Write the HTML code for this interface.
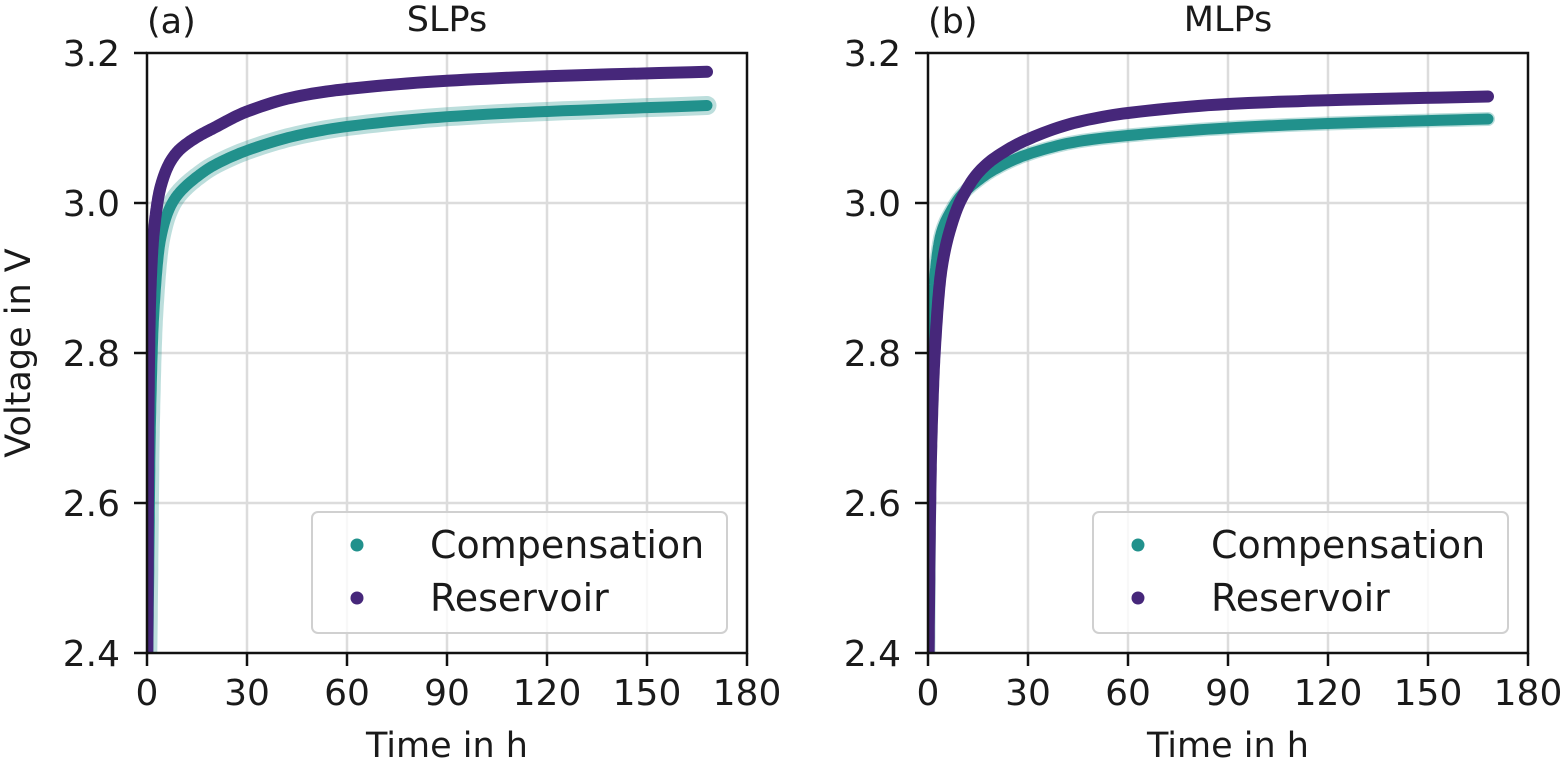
<!DOCTYPE html>
<html><head><meta charset="utf-8"><style>
html,body{margin:0;padding:0;background:#fff;}
svg{display:block;font-family:"DejaVu Sans","Liberation Sans",sans-serif;}
</style></head><body>
<svg id="s" width="1565" height="768" viewBox="0 0 1565 768" xmlns="http://www.w3.org/2000/svg">
<defs>
<clipPath id="c1"><rect x="147" y="53" width="600" height="600"/></clipPath>
<clipPath id="c2"><rect x="928" y="53" width="600" height="600"/></clipPath>
</defs>
<g id="g"></g>
</svg>
<script>
const NS="http://www.w3.org/2000/svg";
const g=document.getElementById('g');
function el(t,a,txt){const e=document.createElementNS(NS,t);for(const k in a)e.setAttribute(k,a[k]);if(txt!==undefined)e.textContent=txt;g.appendChild(e);return e;}
const data={
 lp:[[0,2.3],[0.5,2.75],[1,2.88],[2,2.96],[4,3.02],[7,3.055],[10,3.072],[15,3.088],[20,3.10],[30,3.122],[45,3.142],[60,3.152],[90,3.163],[120,3.169],[168,3.175]],
 lt:[[0,2.3],[0.5,2.5],[1,2.7],[2,2.85],[4,2.95],[7,2.995],[10,3.015],[15,3.035],[20,3.05],[30,3.07],[45,3.09],[60,3.102],[90,3.115],[120,3.122],[168,3.13]],
 rp:[[0,2.3],[0.5,2.55],[1,2.68],[2,2.8],[4,2.91],[7,2.97],[10,3.005],[15,3.04],[20,3.06],[30,3.085],[45,3.108],[60,3.12],[90,3.132],[120,3.137],[168,3.142]],
 rt:[[0,2.3],[0.5,2.68],[1,2.8],[2,2.9],[4,2.96],[7,2.99],[10,3.01],[15,3.03],[20,3.045],[30,3.065],[45,3.082],[60,3.09],[90,3.1],[120,3.106],[168,3.112]]
};
function interp(pts){
 const n=pts.length,xs=pts.map(p=>p[0]),ys=pts.map(p=>p[1]);
 const d=[],m=[];
 for(let i=0;i<n-1;i++)d.push((ys[i+1]-ys[i])/(xs[i+1]-xs[i]));
 m[0]=d[0];m[n-1]=d[n-2];
 for(let i=1;i<n-1;i++){m[i]=(d[i-1]*d[i]<=0)?0:2/(1/d[i-1]+1/d[i]);}
 const out=[];
 for(let i=0;i<n-1;i++){
  const h=xs[i+1]-xs[i];const N=i<6?20:10;
  for(let k=0;k<N;k++){const t=k/N,t2=t*t,t3=t2*t;
   const y=(2*t3-3*t2+1)*ys[i]+(t3-2*t2+t)*h*m[i]+(-2*t3+3*t2)*ys[i+1]+(t3-t2)*h*m[i+1];
   out.push([xs[i]+t*h,y]);}
 }
 out.push(pts[n-1]);return out;
}
function path(pts,x0){return interp(pts).map((p,i)=>(i?'L':'M')+(x0+p[0]*600/180).toFixed(1)+','+(653-(p[1]-2.4)*750).toFixed(1)).join(' ');}
const panels=[{x0:147,t:'SLPs',l:'(a)',k:'l',c:'c1'},{x0:928,t:'MLPs',l:'(b)',k:'r',c:'c2'}];
const FS=35, LFS=38;
panels.forEach(P=>{
 const x0=P.x0;
 for(let i=1;i<6;i++){const x=x0+i*100;el('line',{x1:x,y1:53,x2:x,y2:653,stroke:'#dcdcdc','stroke-width':2.5});}
 for(let i=1;i<4;i++){const y=653-i*150;el('line',{x1:x0,y1:y,x2:x0+600,y2:y,stroke:'#dcdcdc','stroke-width':2.5});}
 el('path',{d:path(data[P.k+'t'],x0),fill:'none',stroke:'#21918c','stroke-opacity':0.3,'stroke-width':P.k=='l'?19:14,'stroke-linecap':'round','stroke-linejoin':'round','clip-path':'url(#'+P.c+')'});
 el('path',{d:path(data[P.k+'t'],x0),fill:'none',stroke:'#21918c','stroke-width':11,'stroke-linecap':'round','stroke-linejoin':'round','clip-path':'url(#'+P.c+')'});
 el('path',{d:path(data[P.k+'p'],x0),fill:'none',stroke:'#46277a','stroke-width':12,'stroke-linecap':'round','stroke-linejoin':'round','clip-path':'url(#'+P.c+')'});
 const lx=x0+165;
 el('rect',{x:lx,y:512,width:415,height:121,rx:6,fill:'#fff','fill-opacity':0.8,stroke:'#d0d0d0','stroke-width':2});
 el('circle',{cx:lx+45,cy:545,r:6.5,fill:'#21918c'});
 el('circle',{cx:lx+45,cy:598,r:6.5,fill:'#46277a'});
 el('text',{x:lx+118,y:558,'font-size':LFS,fill:'#1a1a1a'},'Compensation');
 el('text',{x:lx+118,y:611,'font-size':LFS,fill:'#1a1a1a'},'Reservoir');
 el('rect',{x:x0,y:53,width:600,height:600,fill:'none',stroke:'#111','stroke-width':2.5});
 for(let i=0;i<=6;i++){const x=x0+i*100;el('line',{x1:x,y1:653,x2:x,y2:666,stroke:'#111','stroke-width':2.5});
  el('text',{x:x,y:705,'font-size':FS+1,'text-anchor':'middle',fill:'#1a1a1a'},String(i*30));}
 ['2.4','2.6','2.8','3.0','3.2'].forEach((s,i)=>{const y=653-i*150;el('line',{x1:x0-13,y1:y,x2:x0,y2:y,stroke:'#111','stroke-width':2.5});
  el('text',{x:x0-27,y:y+13,'font-size':FS+1,'text-anchor':'end',fill:'#1a1a1a'},s);});
 el('text',{x:x0+300,y:757,'font-size':FS,'text-anchor':'middle',fill:'#1a1a1a'},'Time in h');
 el('text',{x:x0+300,y:31,'font-size':FS,'text-anchor':'middle',fill:'#1a1a1a'},P.t);
 el('text',{x:x0,y:33,'font-size':FS,fill:'#1a1a1a'},P.l);
});
el('text',{x:30,y:353,'font-size':FS,'text-anchor':'middle',fill:'#1a1a1a',transform:'rotate(-90 30 353)'},'Voltage in V');
</script>
</body></html>
